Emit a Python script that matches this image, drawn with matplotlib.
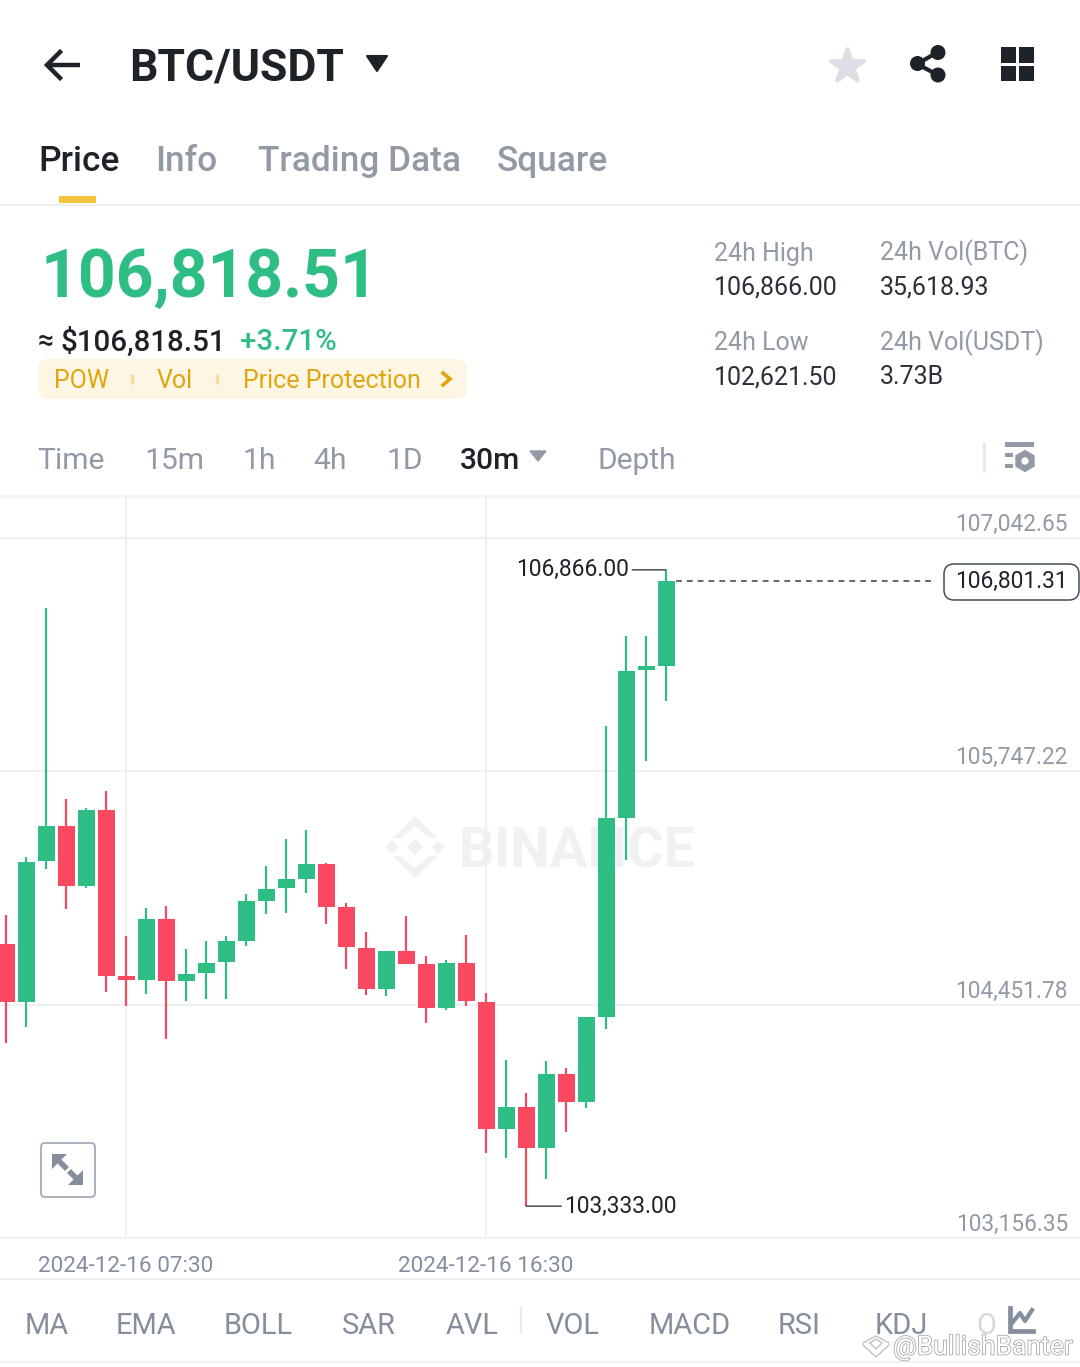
import matplotlib
matplotlib.use("Agg")
import matplotlib.pyplot as plt
import matplotlib.patheffects as pe
from matplotlib.patches import FancyBboxPatch, Polygon, Circle, Rectangle
from matplotlib.transforms import blended_transform_factory

W, H = 1080, 1367
GREEN = "#2EBD85"
RED = "#F84960"
DARK = "#1E2329"
GRAY = "#929AA5"
GOLD = "#E0A50F"
LINE = "#EEF0F2"

plt.rcParams["font.family"] = ["Roboto", "DejaVu Sans"]

# 蜡烛数据 (30m)
opens = [104788, 104466, 105249, 105444, 105110, 105532, 104611, 104588, 104927, 104583,
         104627, 104688, 104805, 105027, 105099, 105149, 105233, 104994, 104766, 104538,
         104749, 104677, 104433, 104683, 104466, 103761, 103883, 103656, 104067, 103911,
         104383, 105488, 106310, 106332]
highs = [104949, 105271, 106654, 105593, 105543, 105638, 104833, 104988, 104999, 104761,
         104805, 104833, 105066, 105221, 105371, 105421, 105238, 105016, 104855, 104749,
         104944, 104722, 104699, 104838, 104516, 104144, 103961, 104139, 104100, 104377,
         105999, 106499, 106499, 106866]
lows = [104239, 104327, 105205, 104983, 105099, 104522, 104444, 104511, 104261, 104472,
        104483, 104483, 104777, 104955, 104960, 105072, 104899, 104650, 104505, 104500,
        104677, 104350, 104422, 104444, 103628, 103600, 103333, 103483, 103744, 103878,
        104316, 105255, 105804, 106138]
closes = [104466, 105244, 105444, 105110, 105532, 104611, 104588, 104927, 104583, 104622,
          104683, 104805, 105027, 105094, 105149, 105233, 104994, 104772, 104538, 104749,
          104677, 104433, 104683, 104472, 103761, 103883, 103656, 104067, 103911, 104383,
          105488, 106304, 106332, 106804]

price_ticks = [107042.65, 105747.22, 104451.78, 103156.35]
price_labels = ["107,042.65", "105,747.22", "104,451.78", "103,156.35"]
time_ticks = [6, 24]
time_labels = ["2024-12-16 07:30", "2024-12-16 16:30"]
last_price = 106801.31
high_price = 106866.00
low_price = 103333.00

tabs = ["Price", "Info", "Trading Data", "Square"]
tab_x = [38, 155, 258, 497]
periods = ["Time", "15m", "1h", "4h", "1D", "30m", "Depth"]
period_x = [37, 144, 242, 313, 386, 460, 597]
indicators = ["MA", "EMA", "BOLL", "SAR", "AVL", "VOL", "MACD", "RSI", "KDJ"]
indicator_x = [25, 116, 224, 342, 446, 546, 649, 778, 875]


def fs(px):
    return px * 0.72


fig = plt.figure(figsize=(W / 100, H / 100), dpi=100, facecolor="white")

# 背景层, 坐标就是像素
bg = fig.add_axes([0, 0, 1, 1], zorder=0)
bg.set_xlim(0, W)
bg.set_ylim(H, 0)
bg.axis("off")


def label(x, y, s, size, color=DARK, weight="normal", ha="left", **kw):
    return bg.text(x, y, s, fontsize=fs(size), color=color, fontweight=weight,
                   ha=ha, va="center_baseline", **kw)


def hline(y, x0=0, x1=W, color=LINE, lw=1.5):
    bg.plot([x0, x1], [y, y], color=color, lw=lw, solid_capstyle="butt")


# 顶部
bg.plot([47, 80], [65, 65], color=DARK, lw=3.2, solid_capstyle="butt")
bg.plot([60, 47, 60], [52, 65, 78], color=DARK, lw=3.2, solid_joinstyle="miter")
label(129, 64, "BTC/USDT", 44.5, weight="bold")
bg.add_patch(Polygon([[367, 56], [387, 56], [377, 71]], closed=True, fc=DARK, ec=DARK, lw=1.5, joinstyle="round"))
bg.scatter([847], [66], marker="*", s=620, color="#DCDFE3", linewidths=3, edgecolors="#DCDFE3")
bg.plot([938, 917, 938], [52, 64, 75], color=DARK, lw=3)
for cx, cy, r in [(938, 52.5, 7.5), (917.5, 63.5, 7.5), (938, 75, 7.5)]:
    bg.add_patch(Circle((cx, cy), r, fc=DARK, ec="none"))
for gx in [1000.5, 1019]:
    for gy in [47, 65.5]:
        bg.add_patch(Rectangle((gx, gy), 15, 15.5, fc=DARK, ec="none"))

# 标签页
for i, (t, x) in enumerate(zip(tabs, tab_x)):
    label(x, 158, t, 35.2, color=DARK if i == 0 else GRAY, weight="medium")
bg.add_patch(Rectangle((59, 196), 37, 7, fc="#F0C53C", ec="none"))
hline(204.5)

# 价格
label(41, 272, "106,818.51", 66, color=GREEN, weight="bold")
label(38, 339, "≈", 28, weight="medium")
label(61, 339, "$106,818.51", 29.5, weight="medium")
label(240, 339, "+3.71%", 29.5, color=GREEN, weight="medium")
bg.add_patch(FancyBboxPatch((38, 359), 429, 40, boxstyle="round,pad=0,rounding_size=10",
                            fc="#FDF6E4", ec="none"))
label(54, 379, "POW", 25, color=GOLD)
label(157, 379, "Vol", 25, color=GOLD)
label(243, 379, "Price Protection", 25, color=GOLD)
for sx in [132, 217]:
    bg.plot([sx, sx], [374, 384], color="#F3DDA0", lw=2.4, solid_capstyle="butt")
bg.plot([443, 450, 443], [373, 379, 385], color=GOLD, lw=2.6, solid_joinstyle="miter")

# 24h 统计
for x, y, s in [(714, 251, "24h High"), (880, 250, "24h Vol(BTC)"), (714, 341, "24h Low"), (880, 340, "24h Vol(USDT)")]:
    label(x, y, s, 25, color=GRAY)
for x, y, s in [(714, 285.5, "106,866.00"), (880, 284.5, "35,618.93"), (714, 375.5, "102,621.50"), (880, 374.5, "3.73B")]:
    label(x, y, s, 25, color="#2B3139")

# 周期
for p, x in zip(periods, period_x):
    on = p == "30m"
    label(x, 458, p, 30, color=DARK if on else GRAY, weight="medium" if on else "normal")
bg.add_patch(Polygon([[530, 451], [546, 451], [538, 461]], closed=True, fc=GRAY, ec=GRAY, lw=1))
bg.plot([984, 984], [442, 472], color="#E8EAED", lw=2.4, solid_capstyle="butt")
bg.add_patch(Rectangle((1005, 442), 29, 4.5, fc=GRAY, ec="none"))
bg.add_patch(Rectangle((1005, 453), 8, 4, fc=GRAY, ec="none"))
bg.add_patch(Rectangle((1005, 464), 8, 4, fc=GRAY, ec="none"))
bg.scatter([1025], [461], marker="h", s=260, fc=GRAY, ec="none")
bg.scatter([1025], [461], marker="o", s=28, fc="white", ec="none")
hline(495.5, color="#F3F4F6", lw=2.2)

# 水印
wm = "#EFF1F3"
for cx, cy, r in [(415, 847, 8), (392, 847, 6.5), (438, 847, 6.5)]:
    bg.add_patch(Polygon([[cx - r, cy], [cx, cy - r], [cx + r, cy], [cx, cy + r]], fc=wm, ec="none"))
bg.add_patch(Polygon([[415, 816], [437, 838], [429, 838], [415, 826], [401, 838], [393, 838]], fc=wm, ec="none"))
bg.add_patch(Polygon([[415, 878], [437, 856], [429, 856], [415, 868], [401, 856], [393, 856]], fc=wm, ec="none"))
label(458, 847, "BINANCE", 56, color=wm, weight="bold")

# 现价框
bg.add_patch(FancyBboxPatch((944, 564), 135, 36, boxstyle="round,pad=0,rounding_size=10",
                            fc="white", ec="#474D57", lw=1.1))

# K线区
top_px, bot_px = 497, 1238
per_px = (price_ticks[0] - price_ticks[-1]) / (1238 - 538)
ax = fig.add_axes([0, 1 - bot_px / H, 1, (bot_px - top_px) / H], zorder=1)
ax.patch.set_alpha(0)
ax.set_xlim(-0.3, 53.7)
ax.set_ylim(price_ticks[-1], price_ticks[0] + (538 - top_px) * per_px)
for s in ["top", "left", "right"]:
    ax.spines[s].set_visible(False)
ax.spines["bottom"].set_color(LINE)
ax.spines["bottom"].set_linewidth(1.5)
ax.set_yticks(price_ticks)
ax.set_yticklabels([])
ax.set_xticks(time_ticks)
ax.set_xticklabels(time_labels, fontsize=fs(22.5), color="#848E9C")
ax.tick_params(axis="both", length=0)
ax.tick_params(axis="x", pad=fs(17.5))
ax.grid(True, color=LINE, lw=1.5)
ax.set_axisbelow(True)

idx = list(range(len(opens)))
colors = [GREEN if c >= o else RED for o, c in zip(opens, closes)]
ax.vlines(idx, lows, highs, colors=colors, lw=fs(2.2), zorder=2)
ax.bar(idx, [abs(c - o) for o, c in zip(opens, closes)], bottom=[min(o, c) for o, c in zip(opens, closes)],
       width=0.85, color=colors, zorder=3)

ytrans = blended_transform_factory(ax.transAxes, ax.transData)
for p, s in zip(price_ticks, price_labels):
    ax.annotate(s, xy=(1, p), xycoords=ytrans, xytext=(-fs(12), fs(2)), textcoords="offset points",
                ha="right", va="bottom", fontsize=fs(22.6), color="#929AA5")

# 最新价
ax.plot([idx[-1] + 0.5, 46.3], [last_price, last_price], color="#474D57", lw=1.2, dashes=(3.5, 3), zorder=2)
ax.text(1 - 12 / W, last_price, "106,801.31", transform=ytrans, ha="right", va="center", fontsize=fs(22.7),
        color=DARK)

# 最高 最低
hi = highs.index(max(highs))
lo = lows.index(min(lows))
ax.annotate(f"{high_price:,.2f}", xy=(hi, high_price), xytext=(-fs(36.5), 0), textcoords="offset points",
            ha="right", va="center", fontsize=fs(22.7), color=DARK,
            arrowprops=dict(arrowstyle="-", color="#474D57", lw=1.1, shrinkA=0, shrinkB=0, relpos=(1, 0.5)))
ax.annotate(f"{low_price:,.2f}", xy=(lo, low_price), xytext=(fs(38), 0), textcoords="offset points",
            ha="left", va="center", fontsize=fs(22.7), color=DARK,
            arrowprops=dict(arrowstyle="-", color="#474D57", lw=1.1, shrinkA=0, shrinkB=0, relpos=(0, 0.5)))

# 放大按钮
bg.add_patch(FancyBboxPatch((41, 1143), 54, 54, boxstyle="round,pad=0,rounding_size=4",
                            fc="white", ec="#A3ABB6", lw=1.3))
bg.plot([57, 67], [1159, 1169], color="#848E9C", lw=4, solid_capstyle="butt")
bg.plot([69, 79], [1171, 1181], color="#848E9C", lw=4, solid_capstyle="butt")
bg.add_patch(Polygon([[52, 1154], [67, 1154], [52, 1169]], fc="#848E9C", ec="none"))
bg.add_patch(Polygon([[83, 1185], [68, 1185], [83, 1170]], fc="#848E9C", ec="none"))

# 底部指标
hline(1278.5)
hline(1362, color="#F0F1F3")
for s, x in zip(indicators, indicator_x):
    label(x, 1322.5, s, 29, color="#848E9C")
label(976, 1322.5, "O", 29, color="#D5D8DD")
bg.plot([521, 521], [1306, 1334], color="#E8EAED", lw=1.6, solid_capstyle="butt")
bg.plot([1010, 1010, 1033], [1308, 1331, 1331], color="#848E9C", lw=3.4, solid_joinstyle="miter")
bg.plot([1013, 1020, 1025, 1032], [1322, 1313, 1321, 1310], color="#848E9C", lw=3)

# 用户水印
label(893, 1344, "@BullishBanter", 26.5, color="white",
      path_effects=[pe.withStroke(linewidth=1.1, foreground="#9FA3A8")])
logo = "#B9BCC0"
bg.plot([863, 876, 889], [1343, 1336, 1343], color=logo, lw=0.9)
bg.plot([863, 876, 889], [1345, 1357, 1345], color=logo, lw=0.9)
bg.plot([870, 876, 882, 876, 870], [1343, 1339, 1343, 1349, 1343], color=logo, lw=0.9)

fig.savefig("out.png", dpi=100)
